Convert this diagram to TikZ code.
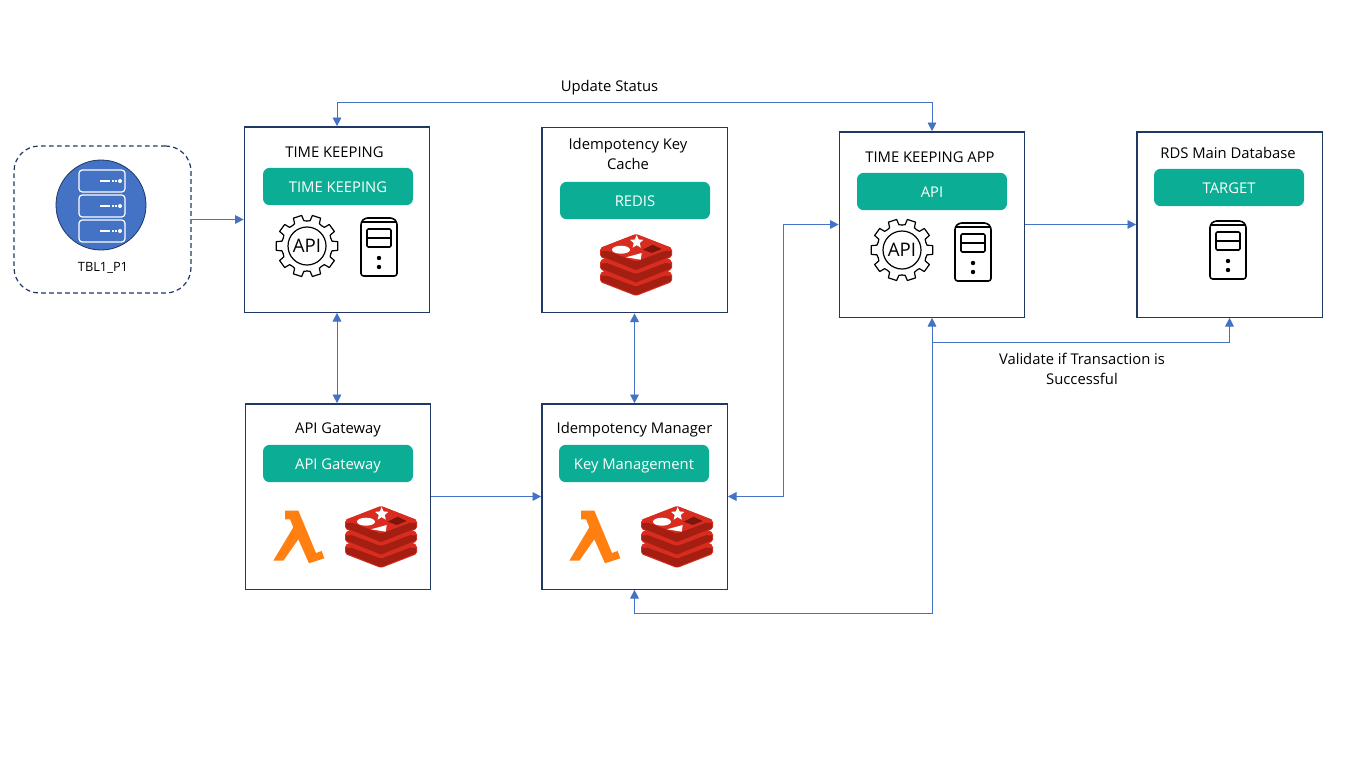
\documentclass[tikz,border=0pt]{standalone}
\usepackage{fontspec}
\setmainfont{Open Sans}
\usetikzlibrary{arrows.meta,shapes.geometric}
\definecolor{navy}{HTML}{1F3864}
\definecolor{link}{HTML}{4472C4}
\definecolor{teal}{HTML}{0BAE94}
\definecolor{rbright}{HTML}{D82C20}
\definecolor{rdark}{HTML}{A41E11}
\definecolor{lamb}{HTML}{FF7F11}
\tikzset{
  x=0.75pt,y=-0.75pt,
  panel/.style={draw=navy,line width=1pt,fill=white,minimum width=139pt,minimum height=139pt,inner sep=0pt},
  badge/.style={fill=teal,rounded corners=5pt,minimum width=112.5pt,minimum height=28pt,inner sep=0pt,text=white,text height=9pt,text depth=0pt,font=\fontsize{11.1}{13}\selectfont},
  title/.style={align=center,font=\fontsize{11.1}{15.5}\selectfont,text=black,inner sep=0pt},
  wire/.style={draw=link,line width=0.7pt},
  onearrow/.style={wire,-{Triangle[length=6.5pt,width=6.5pt]}},
  twoarrow/.style={wire,{Triangle[length=6.5pt,width=6.5pt]}-{Triangle[length=6.5pt,width=6.5pt]}},
  ink/.style={draw=black,line width=1.2pt,line join=round,line cap=round},
  gearicon/.pic={
    \draw[ink,line width=0.9pt] (0,0) circle (19);
    \foreach \k in {0,...,9}{
      \pgfmathsetmacro\a{\k*36}
      \draw[ink,line width=0.9pt]
        (\a-18:25) -- (\a-11:25.5) -- (\a-8:31) -- (\a+8:31) -- (\a+11:25.5) -- (\a+18:25);
    }
    \node[inner sep=0pt,font=\fontsize{14}{14}\selectfont] at (0,0) {API};
  },
  servericon/.pic={
    \draw[ink,rounded corners=2pt] (-18,-25) -- (-18,29) -- (18,29) -- (18,-25) -- (14,-29) -- (-14,-29) -- cycle;
    \draw[ink] (-17,-25) -- (17,-25);
    \draw[ink,rounded corners=1pt] (-12,-18) rectangle (12,0);
    \draw[ink] (-12,-9) -- (12,-9);
    \fill (0,11) circle (2.2);
    \fill (0,20) circle (2.2);
  },
  lambdaicon/.pic={
    \fill[lamb] (-14,-26.5) -- (-0.7,-26.5) -- (17,16) -- (22.7,14) -- (25.3,21.3) -- (10,26.3)
      -- (-0.7,2.3) -- (-15.7,23.7) -- (-25.7,23.7) -- (-5.7,-9.7) -- (-9,-17.7) -- (-14,-17.7) -- cycle;
  },
  redisicon/.pic={
    \foreach \o in {19,6.5,-6}{
      \fill[rbright,rounded corners=1.5pt,yshift=0.75pt*\o*-1]
        (-36,-11) -- (0,-25) -- (36,-11) -- (36,-2) -- (0,12) -- (-36,-2) -- cycle;
      \fill[rdark,yshift=0.75pt*\o*-1]
        (-35,-8) -- (0,-10) -- (35,-8) -- (35,-3) -- (0,11) -- (-35,-3) -- cycle;
      \fill[rbright,rounded corners=1.5pt,yshift=0.75pt*\o*-1]
        (-36,-11) -- (0,-25) -- (36,-11) -- (0,2.5) -- cycle;
    }
    \fill[white] (-15,-15.3) ellipse (9 and 4);
    \node[star,star points=5,star point ratio=2.2,fill=white,inner sep=0pt,minimum size=10.5pt] at (0.7,-23) {};
    \fill[white] (-10,-7.7) -- (5.7,-12) -- (4.7,-5.3) -- cycle;
    \fill[rdark!75!black] (6.7,-15.3) -- (16.7,-20.3) -- (25.7,-16) -- (15.7,-12) -- cycle;
  },
  diskslot/.pic={
    \draw[white,line width=0.9pt,rounded corners=2.5pt] (-23,-11) rectangle (23,11);
    \draw[white,line width=0.8pt] (-2,0) -- (8,0);
    \draw[white,line width=0.8pt] (10,0) -- (11.5,0) (13,0) -- (15,0);
    \fill[white] (18,0) circle (2);
  }
}
\begin{document}
\begin{tikzpicture}
\useasboundingbox[fill=white] (0,0) rectangle (1358,764);

% containers
\node[draw=navy,line width=0.9pt,dash pattern=on 3.5pt off 2.5pt,rounded corners=19pt,fill=white,
  minimum width=132.75pt,minimum height=110.25pt,inner sep=0pt] (src) at (102.5,219.5) {};
\node[panel] (tk) at (337,219.5) {};
\node[panel] (cache) at (634.5,220) {};
\node[panel] (app) at (932,224.5) {};
\node[panel] (rds) at (1229.5,224.5) {};
\node[panel] (gw) at (338,496.5) {};
\node[panel] (mgr) at (634.5,496.5) {};

% source
\node[circle,fill=link,draw=navy,line width=0.6pt,minimum size=67.5pt,inner sep=0pt] (disk) at (101,205) {};
\pic at (102,181) {diskslot};
\pic at (102,206) {diskslot};
\pic at (102,231) {diskslot};
\node[title,font=\fontsize{9.6}{11}\selectfont] (srcname) at (103,267.5) {TBL1\_P1};

% titles
\node[title] (tkt) at (334.5,152.5) {TIME KEEPING};
\node[title] (cachet) at (628,154) {Idempotency Key\\Cache};
\node[title] (appt) at (930,157.5) {TIME KEEPING APP};
\node[title] (rdst) at (1228,153) {RDS Main Database};
\node[title] (gwt) at (338,430) {API Gateway};
\node[title] (mgrt) at (634.5,430) {Idempotency Manager};

% badges
\node[badge] (tkb) at (338,186.5) {TIME KEEPING};
\node[badge] (cacheb) at (635,200.5) {REDIS};
\node[badge] (appb) at (932,191.5) {API};
\node[badge] (rdsb) at (1229,187.5) {TARGET};
\node[badge] (gwb) at (338,463.5) {API Gateway};
\node[badge] (mgrb) at (634,463.5) {Key Management};

% icons
\pic at (307,246) {gearicon};
\pic at (379,247) {servericon};
\pic at (902,250) {gearicon};
\pic at (973,252) {servericon};
\pic at (1228,250) {servericon};
\pic at (636,265) {redisicon};
\pic at (381,537) {redisicon};
\pic at (677,537) {redisicon};
\pic at (299,537) {lambdaicon};
\pic at (595,537) {lambdaicon};

% connectors
\coordinate (updL) at (337,102);
\coordinate (updR) at (932,102);
\coordinate (valid) at (932,342);
\coordinate (back) at (932,613);
\coordinate (midx) at (783,360);

\draw[twoarrow] (tk.north) -- (updL) -- (updR) -- (app.north);
\draw[onearrow] (src.east) -- (tk.west);
\draw[twoarrow] (tk.south) -- (gw.north -| tk.south);
\draw[onearrow] (gw.east) -- (mgr.west);
\draw[twoarrow] (cache.south) -- (mgr.north);
\draw[twoarrow] (mgr.east) -| (midx) |- (app.west);
\draw[onearrow] (app.east) -- (rds.west);
\draw[twoarrow] (app.south) -- (valid) -| (rds.south);
\draw[onearrow] (valid) -- (back) -| (mgr.south);

% labels
\node[title] (updlabel) at (609.5,88) {Update Status};
\node[title] (validlabel) at (1082,369) {Validate if Transaction is\\Successful};
\end{tikzpicture}
\end{document}
